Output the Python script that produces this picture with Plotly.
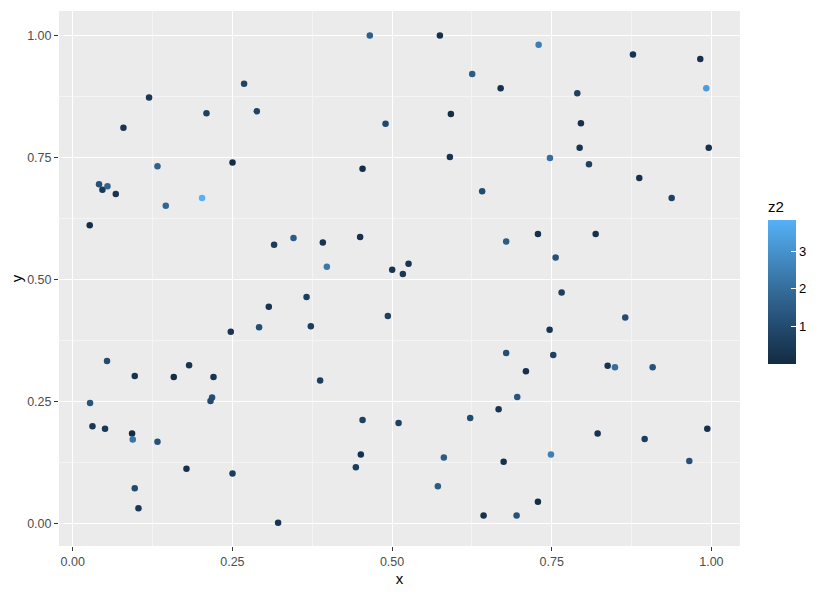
import plotly.graph_objects as go

x = [0.0266, 0.0412, 0.0465, 0.0544, 0.0674, 0.0794, 0.1195, 0.1327, 0.1457, 0.2025,
     0.2094, 0.2502, 0.2683, 0.2882, 0.3153, 0.4652, 0.5749, 0.6255, 0.6700, 0.5921,
     0.4898, 0.5905, 0.4538, 0.6411, 0.6787, 0.3457, 0.3916, 0.4500, 0.3979, 0.5002,
     0.5169, 0.5258, 0.7295, 0.8772, 0.9826, 0.9920, 0.7900, 0.7957, 0.7937, 0.9958,
     0.7472, 0.8083, 0.8871, 0.9378, 0.7284, 0.8188, 0.7561, 0.3070, 0.2918, 0.2475,
     0.0537, 0.1822, 0.0971, 0.1582, 0.2204, 0.2182, 0.2157, 0.0271, 0.0309, 0.0506,
     0.0929, 0.0940, 0.1327, 0.1781, 0.2502, 0.0971, 0.1029, 0.3216, 0.3661, 0.3728,
     0.4934, 0.6787, 0.3874, 0.6668, 0.6223, 0.4538, 0.5102, 0.4511, 0.5811, 0.6747,
     0.4433, 0.5717, 0.6433, 0.7655, 0.8651, 0.7467, 0.7524, 0.8376, 0.8490, 0.9080,
     0.7096, 0.6960, 0.9936, 0.8219, 0.8955, 0.9654, 0.7488, 0.7284, 0.6950]

y = [0.611, 0.695, 0.684, 0.691, 0.675, 0.811, 0.873, 0.732, 0.651, 0.667,
     0.841, 0.740, 0.901, 0.845, 0.571, 1.000, 1.000, 0.921, 0.892, 0.839,
     0.819, 0.751, 0.727, 0.681, 0.578, 0.585, 0.576, 0.587, 0.526, 0.520,
     0.511, 0.532, 0.981, 0.961, 0.952, 0.892, 0.882, 0.820, 0.770, 0.770,
     0.749, 0.736, 0.708, 0.667, 0.593, 0.593, 0.545, 0.444, 0.402, 0.393,
     0.333, 0.324, 0.302, 0.300, 0.300, 0.258, 0.251, 0.2465, 0.199, 0.194,
     0.184, 0.172, 0.167, 0.112, 0.102, 0.072, 0.031, 0.001, 0.464, 0.404,
     0.425, 0.349, 0.293, 0.234, 0.216, 0.212, 0.2055, 0.141, 0.135, 0.126,
     0.115, 0.076, 0.016, 0.473, 0.422, 0.397, 0.345, 0.323, 0.320, 0.320,
     0.312, 0.259, 0.194, 0.184, 0.173, 0.128, 0.141, 0.044, 0.016]

z2 = [0.1, 1.2, 0.4, 1.7, 0.3, 0.3, 0.4, 1.7, 1.8, 3.83,
      0.7, 0.1, 0.8, 0.8, 0.5, 1.6, 0.2, 1.5, 0.2, 0.1,
      0.9, 0.3, 0.1, 1.0, 1.5, 1.5, 0.3, 0.2, 2.3, 0.3,
      0.4, 0.3, 2.5, 0.3, 0.2, 3.3, 0.7, 0.2, 0.3, 0.2,
      2.0, 0.7, 0.2, 0.7, 0.2, 0.2, 1.2, 0.3, 1.1, 0.3,
      1.0, 0.3, 0.3, 0.05, 0.3, 1.1, 1.0, 1.3, 0.4, 0.4,
      0.05, 2.2, 1.2, 0.2, 0.6, 1.0, 0.4, 0.3, 0.6, 0.6,
      0.7, 1.1, 0.6, 0.3, 1.0, 0.7, 0.7, 0.2, 1.5, 0.2,
      0.6, 1.5, 0.2, 0.6, 1.0, 0.3, 0.7, 0.3, 2.0, 1.2,
      0.2, 1.3, 0.2, 0.3, 0.6, 1.2, 2.5, 0.1, 1.2]

x_ticks = [0, 0.25, 0.5, 0.75, 1.0]
y_ticks = [0, 0.25, 0.5, 0.75, 1.0]
cbar_ticks = [1, 2, 3]

colorscale = [[0.0, "#132B43"], [0.25, "#22496D"], [0.5, "#336A98"],
              [0.75, "#448DC6"], [1.0, "#56B1F7"]]

fig = go.Figure(go.Scatter(
    x=x, y=y, mode="markers",
    marker=dict(size=6.5, color=z2, colorscale=colorscale, cmin=0, cmax=3.83,
                line=dict(width=0),
                colorbar=dict(
                    title=dict(text="z2", side="top", font=dict(size=15, color="black")),
                    x=1.041, xanchor="left", xpad=0,
                    y=0.340, yanchor="bottom", ypad=0,
                    len=166, lenmode="pixels", thickness=28,
                    outlinewidth=0,
                    tickvals=cbar_ticks, ticks="inside", ticklen=5, tickcolor="white",
                    tickfont=dict(size=13, color="black"),
                )),
    showlegend=False,
))

axis_common = dict(
    showgrid=True, gridcolor="white", gridwidth=1.2,
    zeroline=False, showline=False,
    ticks="outside", ticklen=4, tickcolor="#333333", tickwidth=1,
    tickfont=dict(size=12.5, color="#4D4D4D"),
    tickformat=".2f",
    minor=dict(showgrid=True, gridcolor="#F4F4F4", gridwidth=0.6, dtick=0.125, tick0=0.125, ticks=""),
)

fig.update_xaxes(range=[-0.0215, 1.0448], tickvals=x_ticks,
                 title=dict(text="x", font=dict(size=15, color="black"), standoff=5),
                 **axis_common)
fig.update_yaxes(range=[-0.0465, 1.0504], tickvals=y_ticks,
                 title=dict(text="y", font=dict(size=15, color="black"), standoff=3),
                 **axis_common)

fig.update_layout(
    width=821, height=590,
    margin=dict(l=51, r=89, t=3, b=52),
    plot_bgcolor="#EBEBEB", paper_bgcolor="white",
    font=dict(family="Liberation Sans, Arial, sans-serif"),
)

fig.write_html("out.html")
